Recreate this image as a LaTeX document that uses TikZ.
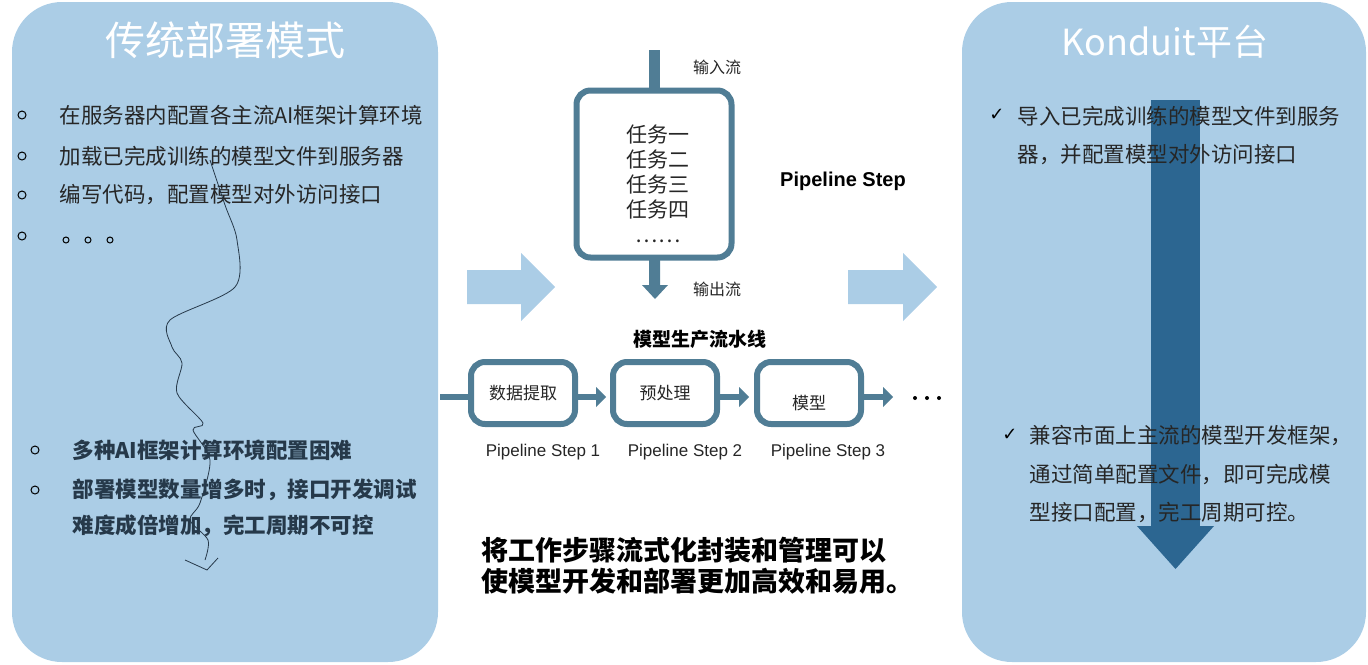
\documentclass[tikz,border=0pt]{standalone}
\usepackage{fontspec}
\setmainfont{Noto Sans CJK SC}
\newfontfamily\djv{DejaVu Sans}
\newfontfamily\lib{Liberation Sans}
\begin{document}
\begin{tikzpicture}[x=1pt,y=-1pt,
  panel/.style={fill=panelblue,draw=none,rounded corners=50pt},
  tbox/.style={draw=strokeblue,line width=6pt,rounded corners=14pt,fill=white},
  fs/.style={font=\fontsize{#1}{#1}\selectfont},
  txt/.style={anchor=west,font=\fontsize{21.5}{21.5}\selectfont,text=black!85},
  btxt/.style={anchor=west,text=darktxt,font=\fontsize{21.5}{21.5}\selectfont\bfseries},
  bul/.style={draw=black,line width=1pt,circle,inner sep=0pt,minimum size=8pt}]
\definecolor{panelblue}{HTML}{ABCDE6}
\definecolor{strokeblue}{HTML}{507D95}
\definecolor{darktxt}{HTML}{26394A}
\definecolor{bigarrow}{HTML}{2C6691}
\useasboundingbox (0,0) rectangle (1368,664);
% panels
\fill[panel] (12,2) rectangle (438,662);
\fill[panel] (962,2) rectangle (1366,662);
\node[font=\fontsize{40}{40}\selectfont,text=white] (t1) at (225,40) {传统部署模式};
\node[font=\fontsize{36}{36}\selectfont,text=white] (t2) at (1165,42) {Konduit平台};
% left bullets
\foreach \y/\t [count=\i] in {115/在服务器内配置各主流AI框架计算环境,156/加载已完成训练的模型文件到服务器,195/编写代码，配置模型对外访问接口} {
  \node[bul] (b\i) at (22,\y) {};
  \node[txt] (l\i) at (56,\y) {\t};
}
\node[bul] (b4) at (22,236) {};
\foreach \x in {66,88,110} \draw[line width=1pt] (\x,240) circle (3pt);
\node[bul] (b5) at (35,450) {};
\node[btxt] (l5) at (69,450) {多种AI框架计算环境配置困难};
\node[bul] (b6) at (35,490) {};
\node[btxt] (l6) at (69,490) {部署模型数量增多时，接口开发调试};
\node[btxt] (l7) at (69,526) {难度成倍增加，完工周期不可控};
% squiggle
\draw[darktxt,line width=0.8pt] plot[smooth,tension=0.5] coordinates {(210,160) (225,205) (237,240) (235,287) (170,320) (172,347) (182,363) (177,393) (203,423) (193,430) (210,460) (200,503) (190,520) (208,540) (205,560)};
\draw[darktxt,line width=0.8pt] (185,560) -- (207,570) -- (218,558);
% big light arrows
\fill[panelblue] (467,270) -- (521,270) -- (521,253) -- (555,287) -- (521,321) -- (521,304) -- (467,304) -- cycle;
\fill[panelblue] (848,270) -- (903,270) -- (903,253) -- (937,287) -- (903,321) -- (903,304) -- (848,304) -- cycle;
% top pipeline step
\fill[strokeblue] (649,50) rectangle (660,90);
\fill[strokeblue] (649,258) -- (660,258) -- (660,285) -- (668,285) -- (655,299) -- (642,285) -- (649,285) -- cycle;
\node[tbox,minimum width=155pt,minimum height=167pt] (ps) at (654,174) {};
\node[align=center,text=black!85,font=\fontsize{21}{25}\selectfont] (tasks) at (658,184) {任务一\\任务二\\任务三\\任务四\\……};
\node[fs=16,text=black!85] (in) at (717,67) {输入流};
\node[fs=16,text=black!85] (out) at (717,289) {输出流};
\node[font=\lib\fontsize{20}{20}\selectfont\bfseries] (pst) at (843,181) {Pipeline Step};
\node[font=\fontsize{19}{19}\selectfont\bfseries] (mt) at (700,339) {模型生产流水线};
% bottom pipeline
\coordinate (start) at (440,397);
\node[tbox,minimum width=104pt,minimum height=62pt] (s1) at (523,393) {};
\node[tbox,minimum width=104pt,minimum height=62pt] (s2) at (665,393) {};
\node[tbox,minimum width=104pt,minimum height=62pt] (s3) at (809,393) {};
\node[fs=17,text=black!85] at (s1) {数据提取};
\node[fs=17,text=black!85] at (s2) {预处理};
\node[fs=17,text=black!85] at ([yshift=-10pt]s3) {模型};
\draw[strokeblue,line width=6pt] (start) -- (s1.west |- start);
\coordinate (e1) at (606,397);
\coordinate (e2) at (749,397);
\coordinate (e3) at (893,397);
\foreach \a/\e in {s1/e1,s2/e2,s3/e3} {
  \draw[strokeblue,line width=6pt] (\a.east |- \e) -- ([xshift=-9pt]\e);
  \fill[strokeblue] ([xshift=-10pt,yshift=-10pt]\e) -- (\e) -- ([xshift=-10pt,yshift=10pt]\e) -- cycle;
}
\foreach \x in {915,927,939} \fill (\x,398) circle (2pt);
\foreach \n/\x in {1/543,2/685,3/828} \node[font=\lib\fontsize{17}{17}\selectfont,text=black!85] (p\n) at (\x,452) {Pipeline Step \n};
% bottom statement
\node[anchor=west,align=left,font=\fontsize{27}{31}\selectfont\bfseries] (st) at (478,566) {将工作步骤流式化封装和管理可以\\使模型开发和部署更加高效和易用。};
% right panel arrow
\fill[bigarrow] (1151,100) rectangle (1200,528);
\fill[bigarrow] (1137,526) -- (1214,526) -- (1175.5,569) -- cycle;
\node[font=\djv\fontsize{18}{18}\selectfont] (c1) at (997,115) {✓};
\node[txt] (r1) at (1014,116) {导入已完成训练的模型文件到服务};
\node[txt] (r2) at (1014,155) {器，并配置模型对外访问接口};
\node[font=\djv\fontsize{18}{18}\selectfont] (c2) at (1010,435) {✓};
\node[txt] (r3) at (1026,436) {兼容市面上主流的模型开发框架，};
\node[txt] (r4) at (1026,475) {通过简单配置文件，即可完成模};
\node[txt] (r5) at (1026,513) {型接口配置，完工周期可控。};
\end{tikzpicture}
\end{document}
